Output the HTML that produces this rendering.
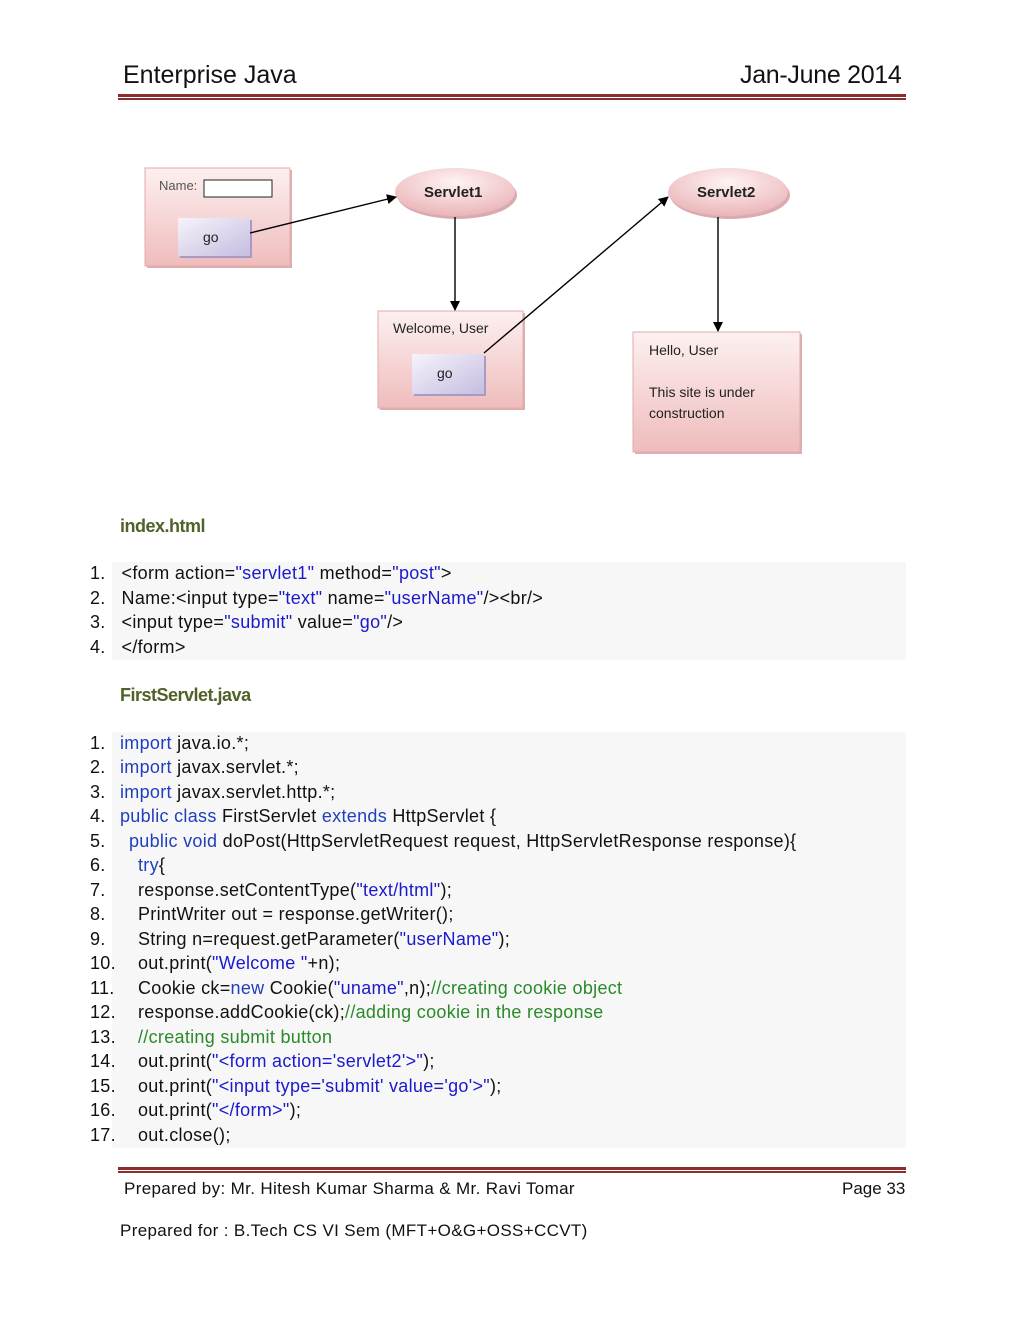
<!DOCTYPE html>
<html><head><meta charset="utf-8"><style>
body{margin:0;width:1024px;height:1326px;background:#fff;position:relative;font-family:"Liberation Sans",sans-serif;overflow:hidden}
.a{position:absolute;white-space:pre}
.code{position:absolute;left:112px;width:794px;background:#f7f7f7}
.ln{position:absolute;font-size:18px;letter-spacing:0.3px;color:#111;white-space:pre}
.k{color:#1f3fbf}.s{color:#1a1acc}.c{color:#2a8a2a}
.t{color:#4f6228;font-weight:bold;font-size:18px;letter-spacing:-0.5px}
.f{font-size:17px;letter-spacing:0.35px;color:#111}
</style></head><body>
<div class="a" style="left:123px;top:61px;font-size:25px;color:#111">Enterprise Java</div>
<div class="a" style="left:740px;top:61px;font-size:25px;color:#111;letter-spacing:-0.3px">Jan-June 2014</div>
<div class="a" style="left:118px;top:94px;width:788px;height:3px;background:#8b2d2d"></div>
<div class="a" style="left:118px;top:98px;width:788px;height:2px;background:#8b2d2d"></div>

<svg class="a" style="left:0;top:0" width="1024" height="480">
<defs>
<linearGradient id="p" x1="0" y1="0" x2="0" y2="1"><stop offset="0" stop-color="#fdf0f0"/><stop offset="1" stop-color="#efbcbc"/></linearGradient>
<linearGradient id="b" x1="0" y1="0" x2="1" y2="1"><stop offset="0" stop-color="#f6f3fb"/><stop offset="1" stop-color="#c6bde0"/></linearGradient>
<radialGradient id="e" cx="0.5" cy="0.3" r="0.7"><stop offset="0" stop-color="#fff3f3"/><stop offset="1" stop-color="#eab5b8"/></radialGradient>
<marker id="m" markerWidth="10" markerHeight="10" refX="9" refY="5" orient="auto" markerUnits="userSpaceOnUse"><path d="M0,0 L10,5 L0,10z" fill="#000"/></marker>
</defs>
<g font-family="Liberation Sans" font-size="14" fill="#222">
<rect x="147" y="170" width="145" height="98" fill="#ddb0b0"/>
<rect x="145" y="168" width="145" height="98" fill="url(#p)" stroke="#e3a9a9"/>
<text x="159" y="190" fill="#555" font-size="13">Name:</text>
<rect x="204" y="180" width="68" height="17" fill="#fff" stroke="#222"/>
<rect x="180" y="220" width="72" height="38" fill="#a89ac0"/>
<rect x="178" y="218" width="72" height="38" fill="url(#b)"/>
<text x="203" y="242">go</text>
<ellipse cx="457" cy="195" rx="60" ry="24" fill="#d9aab0"/>
<ellipse cx="455" cy="192" rx="60" ry="24" fill="url(#e)"/>
<text x="424" y="197" font-weight="bold" font-size="15">Servlet1</text>
<ellipse cx="730" cy="195" rx="60" ry="24" fill="#d9aab0"/>
<ellipse cx="728" cy="192" rx="60" ry="24" fill="url(#e)"/>
<text x="697" y="197" font-weight="bold" font-size="15">Servlet2</text>
<rect x="380" y="313" width="145" height="97" fill="#ddb0b0"/>
<rect x="378" y="311" width="145" height="97" fill="url(#p)" stroke="#e3a9a9"/>
<text x="393" y="333">Welcome,  User</text>
<rect x="414" y="356" width="72" height="40" fill="#a89ac0"/>
<rect x="412" y="354" width="72" height="40" fill="url(#b)"/>
<text x="437" y="378">go</text>
<rect x="635" y="334" width="167" height="120" fill="#ddb0b0"/>
<rect x="633" y="332" width="167" height="120" fill="url(#p)" stroke="#e3a9a9"/>
<text x="649" y="355">Hello,  User</text>
<text x="649" y="397">This site is under</text>
<text x="649" y="418">construction</text>
<g stroke="#000" stroke-width="1.4" marker-end="url(#m)">
<line x1="250" y1="233" x2="396" y2="197"/>
<line x1="455" y1="217" x2="455" y2="310"/>
<line x1="484" y1="353" x2="668" y2="197"/>
<line x1="718" y1="217" x2="718" y2="331"/>
</g>
</g>
</svg>

<div class="a t" style="left:120px;top:516px">index.html</div>
<div class="code" style="top:562px;height:98px"></div>
<div class="ln" style="left:90px;top:563px">1.   &lt;form action=<span class="s">"servlet1"</span> method=<span class="s">"post"</span>&gt;</div>
<div class="ln" style="left:90px;top:588px">2.   Name:&lt;input type=<span class="s">"text"</span> name=<span class="s">"userName"</span>/&gt;&lt;br/&gt;</div>
<div class="ln" style="left:90px;top:612px">3.   &lt;input type=<span class="s">"submit"</span> value=<span class="s">"go"</span>/&gt;</div>
<div class="ln" style="left:90px;top:637px">4.   &lt;/form&gt;</div>

<div class="a t" style="left:120px;top:685px">FirstServlet.java</div>
<div class="code" style="top:732px;height:416px"></div>
<div class="ln" style="left:90px;top:733px">1.</div><div class="ln" style="left:120px;top:733px"><span class="k">import</span> java.io.*;</div>
<div class="ln" style="left:90px;top:757px">2.</div><div class="ln" style="left:120px;top:757px"><span class="k">import</span> javax.servlet.*;</div>
<div class="ln" style="left:90px;top:782px">3.</div><div class="ln" style="left:120px;top:782px"><span class="k">import</span> javax.servlet.http.*;</div>
<div class="ln" style="left:90px;top:806px">4.</div><div class="ln" style="left:120px;top:806px"><span class="k">public class</span> FirstServlet <span class="k">extends</span> HttpServlet {</div>
<div class="ln" style="left:90px;top:831px">5.</div><div class="ln" style="left:129px;top:831px"><span class="k">public void</span> doPost(HttpServletRequest request, HttpServletResponse response){</div>
<div class="ln" style="left:90px;top:855px">6.</div><div class="ln" style="left:138px;top:855px"><span class="k">try</span>{</div>
<div class="ln" style="left:90px;top:880px">7.</div><div class="ln" style="left:138px;top:880px">response.setContentType(<span class="s">"text/html"</span>);</div>
<div class="ln" style="left:90px;top:904px">8.</div><div class="ln" style="left:138px;top:904px">PrintWriter out = response.getWriter();</div>
<div class="ln" style="left:90px;top:929px">9.</div><div class="ln" style="left:138px;top:929px">String n=request.getParameter(<span class="s">"userName"</span>);</div>
<div class="ln" style="left:90px;top:953px">10.</div><div class="ln" style="left:138px;top:953px">out.print(<span class="s">"Welcome "</span>+n);</div>
<div class="ln" style="left:90px;top:978px">11.</div><div class="ln" style="left:138px;top:978px">Cookie ck=<span class="k">new</span> Cookie(<span class="s">"uname"</span>,n);<span class="c">//creating cookie object</span></div>
<div class="ln" style="left:90px;top:1002px">12.</div><div class="ln" style="left:138px;top:1002px">response.addCookie(ck);<span class="c">//adding cookie in the response</span></div>
<div class="ln" style="left:90px;top:1027px">13.</div><div class="ln" style="left:138px;top:1027px"><span class="c">//creating submit button</span></div>
<div class="ln" style="left:90px;top:1051px">14.</div><div class="ln" style="left:138px;top:1051px">out.print(<span class="s">"&lt;form action='servlet2'&gt;"</span>);</div>
<div class="ln" style="left:90px;top:1076px">15.</div><div class="ln" style="left:138px;top:1076px">out.print(<span class="s">"&lt;input type='submit' value='go'&gt;"</span>);</div>
<div class="ln" style="left:90px;top:1100px">16.</div><div class="ln" style="left:138px;top:1100px">out.print(<span class="s">"&lt;/form&gt;"</span>);</div>
<div class="ln" style="left:90px;top:1125px">17.</div><div class="ln" style="left:138px;top:1125px">out.close();</div>

<div class="a" style="left:118px;top:1167px;width:788px;height:3px;background:#8b2d2d"></div>
<div class="a" style="left:118px;top:1171px;width:788px;height:2px;background:#8b2d2d"></div>
<div class="a f" style="left:124px;top:1179px">Prepared by: Mr. Hitesh Kumar Sharma &amp; Mr. Ravi Tomar</div>
<div class="a f" style="left:842px;top:1179px;letter-spacing:0">Page 33</div>
<div class="a f" style="left:120px;top:1221px">Prepared for : B.Tech CS VI Sem (MFT+O&amp;G+OSS+CCVT)</div>
</body></html>
